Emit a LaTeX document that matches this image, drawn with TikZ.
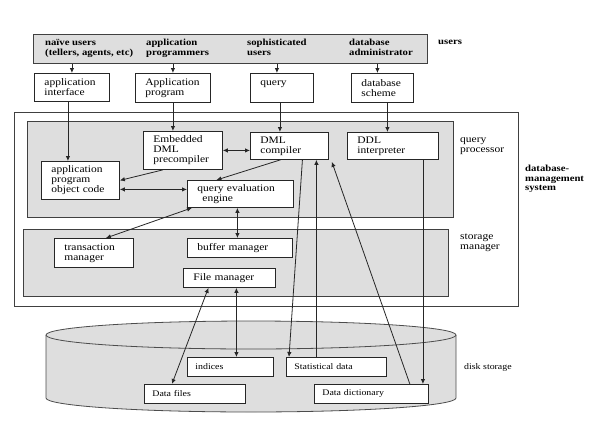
\documentclass[tikz,border=0pt]{standalone}
\usepackage{fontspec}
\setmainfont{Liberation Serif}[FakeStretch=1.15]
\usetikzlibrary{arrows.meta, positioning}
\newcommand{\blockfont}{\fontsize{10}{10}\selectfont}
\newcommand{\userfont}{\fontsize{9.3}{9.6}\selectfont\bfseries}
\newcommand{\diskfont}{\fontsize{8.6}{9}\selectfont}
\tikzset{
    block/.style={rectangle, draw=black!85, fill=white, line width=0.85pt, anchor=north west, align=left, inner xsep=10pt, inner ysep=0pt, font=\blockfont},
    diskbox/.style={block, inner xsep=8pt, font=\diskfont},
    panel/.style={rectangle, draw=black!75, fill=black!13, line width=0.8pt, anchor=north west, inner sep=0pt},
    tag/.style={anchor=north west, align=left, inner sep=0pt, font=\blockfont},
    head/.style={tag, font=\userfont},
    line/.style={draw=black!85, line width=0.8pt, -{Latex[length=5pt,width=4.5pt]}},
    both/.style={line, {Latex[length=5pt,width=4.5pt]}-{Latex[length=5pt,width=4.5pt]}},
    disk/.style={draw=black!70, fill=black!13, line width=0.8pt}
}

\begin{document}
\begin{tikzpicture}[x=1pt, y=-1pt]
    \useasboundingbox (0,0) rectangle (598,445);

    % users
    \node [panel, minimum width=394pt, minimum height=29pt] (users) at (33,34) {};
    \node [head] (naive) at (45,39) {naïve users\\(tellers, agents, etc)};
    \node [head] (programmers) at (146,39) {application\\programmers};
    \node [head] (sophisticated) at (247,39) {sophisticated\\users};
    \node [head] (admin) at (349,39) {database\\administrator};
    \node [head] (userslabel) at (438,40) {users};

    \node [block, text width=55pt, minimum height=28pt] (ainterface) at (34,73) {application\\interface};
    \node [block, text width=55pt, minimum height=29pt] (aprogram) at (135,73) {Application\\program};
    \node [block, text width=43pt, minimum height=29pt] (query) at (250,73) {query\\~};
    \node [block, text width=42pt, minimum height=29pt] (dbscheme) at (351,73) {database\\scheme};

    % database-management system
    \node [panel, fill=white, minimum width=504pt, minimum height=194pt] (dbms) at (14,112) {};
    \node [head] (dbmslabel) at (525,165) {database-\\management\\system};

    % query processor
    \node [panel, minimum width=426pt, minimum height=96pt] (qproc) at (27,121) {};
    \node [tag] (qplabel) at (460,137) {query\\processor};
    \node [block, text width=59pt, minimum height=38pt] (embedded) at (143,131) {Embedded\\DML\\precompiler};
    \node [block, text width=58pt, minimum height=27pt] (dmlcomp) at (250,132) {DML\\compiler};
    \node [block, text width=71pt, minimum height=27pt] (ddl) at (347,132) {DDL\\interpreter};
    \node [block, text width=58pt, minimum height=38pt] (objcode) at (41,161) {application\\program\\object code};
    \node [block, text width=86pt, minimum height=27pt] (qee) at (187,180) {query evaluation\\\hspace*{5pt}engine};

    % storage manager
    \node [panel, minimum width=425pt, minimum height=67pt] (smgr) at (23,229) {};
    \node [tag] (smlabel) at (460,234) {storage\\manager};
    \node [block, text width=59pt, minimum height=29pt] (transaction) at (54,238) {transaction\\manager};
    \node [block, text width=85pt, minimum height=19pt] (buffer) at (187,238) {buffer manager};
    \node [block, text width=72pt, minimum height=19pt] (filemgr) at (183,268) {File manager};

    % disk storage
    \draw [disk] (46,335) -- (46,398) arc[start angle=180, end angle=0, x radius=205, y radius=14] -- (456,335);
    \draw [disk] (251,335) ellipse[x radius=205, y radius=14];
    \node [tag, font=\diskfont] (disklabel) at (464,363) {disk storage};
    \node [diskbox, text width=70pt, minimum height=19pt] (indices) at (187,357) {indices};
    \node [diskbox, text width=84pt, minimum height=19pt] (statdata) at (286,357) {Statistical data};
    \node [diskbox, text width=85pt, minimum height=19pt] (datafiles) at (144,384) {Data files};
    \node [diskbox, text width=98pt, minimum height=19pt] (datadict) at (314,384) {Data dictionary};

    % users to programs
    \draw [line] (users.south -| ainterface.north) -- (ainterface.north);
    \draw [line] (users.south -| aprogram.north) -- (aprogram.north);
    \draw [line] ([xshift=-5pt]query.north |- users.south) -- ([xshift=-5pt]query.north);
    \draw [line] ([xshift=-5pt]dbscheme.north |- users.south) -- ([xshift=-5pt]dbscheme.north);

    % programs to query processor
    \draw [line] ([xshift=-4pt]ainterface.south) -- ([xshift=-4pt]ainterface.south |- objcode.north);
    \draw [line] (aprogram.south) -- (aprogram.south |- embedded.north);
    \draw [line] ([xshift=-2pt]query.south) -- ([xshift=-2pt]query.south |- dmlcomp.north);
    \draw [line] ([xshift=5pt]dbscheme.south) -- ([xshift=5pt]dbscheme.south |- ddl.north);

    % inside query processor
    \draw [both] (embedded.east) -- (embedded.east -| dmlcomp.west);
    \draw [line] ([xshift=-20pt]embedded.south) -- (objcode.east);
    \draw [line] ([xshift=-9pt]dmlcomp.south) -- ([xshift=-24pt]qee.north);
    \draw [both] ([yshift=-9pt]objcode.east) -- ([yshift=-9pt]objcode.east -| qee.west);

    % query processor to storage manager
    \draw [both] ([xshift=-3pt]qee.south) -- ([xshift=-3pt]qee.south |- buffer.north);
    \draw [both] ([xshift=5pt]qee.south west) -- ([xshift=12pt]transaction.north);

    % storage manager to disk
    \draw [both] ([xshift=-21pt]filemgr.south) -- ([xshift=-23pt]datafiles.north);
    \draw [both] ([xshift=7pt]filemgr.south) -- ([xshift=7pt]filemgr.south |- indices.north);

    % compilers and disk
    \draw [line] ([xshift=13pt]dmlcomp.south) -- ([xshift=3pt]statdata.north west);
    \draw [line] ([xshift=-20pt]statdata.north) -- ([xshift=-20pt]statdata.north |- dmlcomp.south);
    \draw [line] ([xshift=-19pt]datadict.north east) -- ([xshift=3pt,yshift=-2pt]dmlcomp.south east);
    \draw [line] ([xshift=30pt]ddl.south) -- ([xshift=30pt]ddl.south |- datadict.north);

\end{tikzpicture}
\end{document}
